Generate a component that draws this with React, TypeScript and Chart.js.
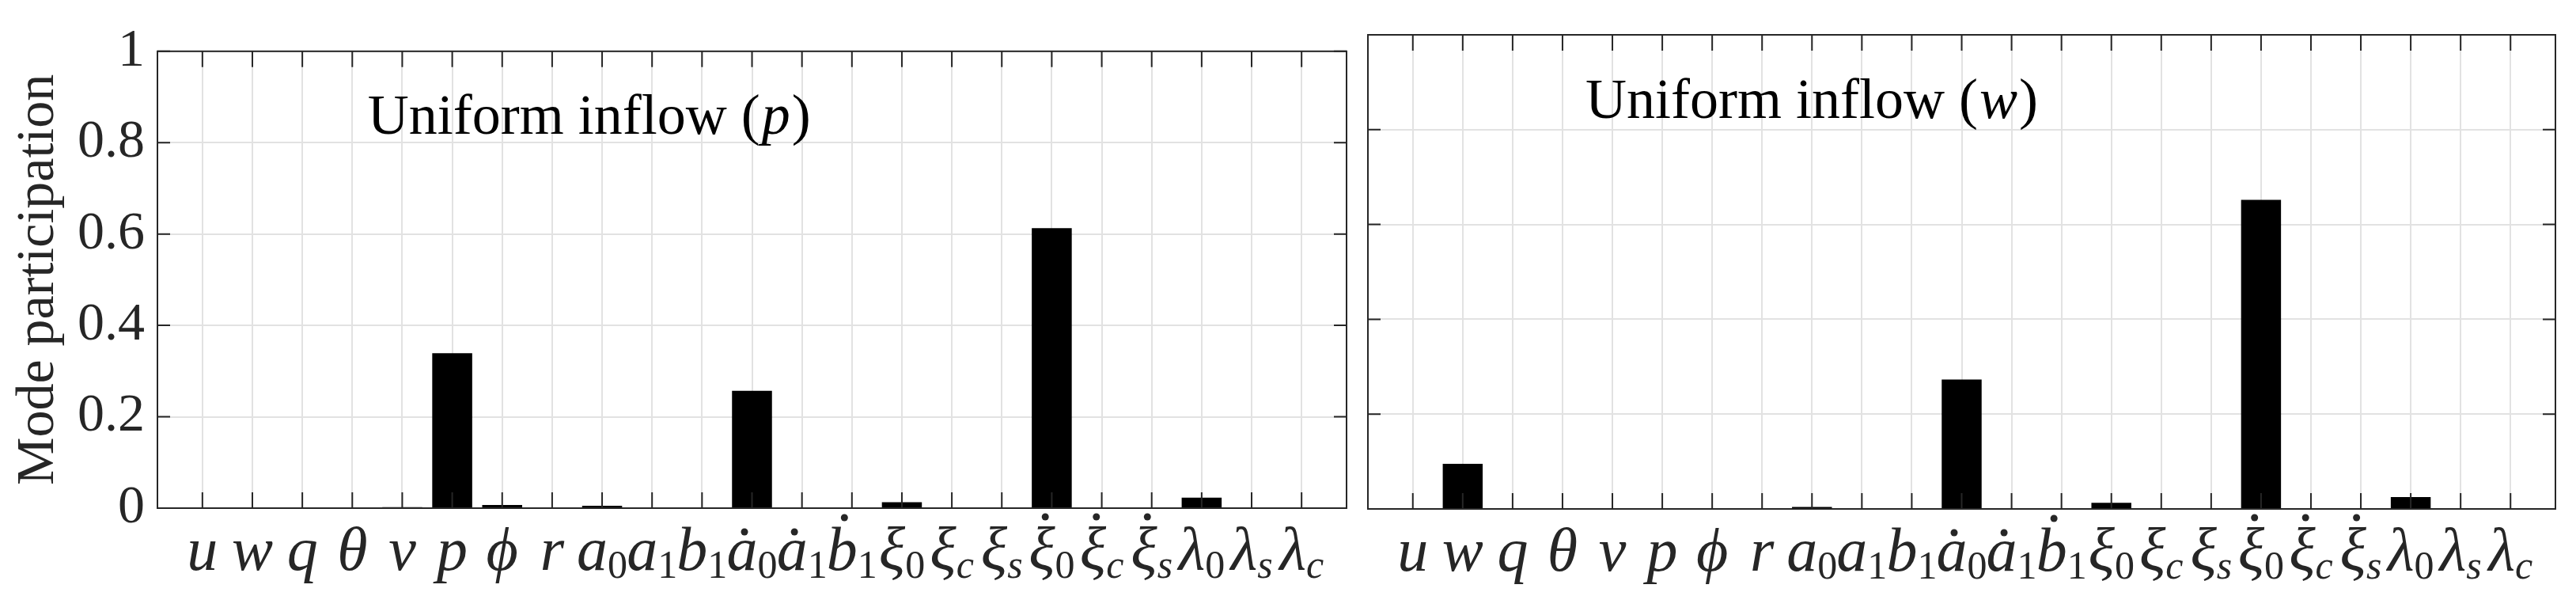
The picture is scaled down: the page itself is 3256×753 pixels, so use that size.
import React, { useEffect, useRef } from 'react';
import { Chart, registerables } from 'chart.js';

Chart.register(...registerables);

// ---- data ----
const LABEL_BASE = ['u', 'w', 'q', 'θ', 'v', 'p', 'ϕ', 'r', 'a', 'a', 'b', 'a', 'a', 'b', 'ξ', 'ξ', 'ξ', 'ξ', 'ξ', 'ξ', 'λ', 'λ', 'λ'];
const LABEL_SUB = ['', '', '', '', '', '', '', '', '0', '1', '1', '0', '1', '1', '0', 'c', 's', '0', 'c', 's', '0', 's', 'c'];
const LABEL_DOT = [false, false, false, false, false, false, false, false, false, false, false, true, true, true, false, false, false, true, true, true, false, false, false];

const VALUES_P = [0, 0, 0, 0, 0.002, 0.339, 0.007, 0.001, 0.005, 0, 0, 0.257, 0, 0, 0.013, 0, 0, 0.613, 0, 0, 0.023, 0, 0];
const VALUES_W = [0, 0.095, 0, 0, 0, 0, 0, 0, 0.004, 0, 0, 0.273, 0, 0, 0.013, 0, 0, 0.652, 0, 0, 0.025, 0, 0];

const Y_TICKS = [0, 0.2, 0.4, 0.6, 0.8, 1];
const Y_TICK_LABELS = ['0', '0.2', '0.4', '0.6', '0.8', '1'];
const Y_TITLE = 'Mode participation';
const TITLE_P = { text: 'Uniform inflow (', sym: 'p', end: ')' };
const TITLE_W = { text: 'Uniform inflow (', sym: 'w', end: ')' };

const SERIF = '"Liberation Serif", "Times New Roman", serif';
const TEXT = '#262626';
const GRID = '#e2e2e2';
const H = 737;

function decorPlugin(title: any, titleX: number, titleY: number) {
  return {
    id: 'decor',
    afterDraw(chart: any) {
      const { ctx, chartArea: a } = chart;
      const xs = chart.scales.x;
      const ys = chart.scales.y;
      ctx.save();
      // box
      ctx.strokeStyle = TEXT;
      ctx.lineWidth = 2;
      ctx.strokeRect(a.left, a.top, a.right - a.left, a.bottom - a.top);
      // inward ticks
      ctx.beginPath();
      LABEL_BASE.forEach((_, i) => {
        const x = xs.getPixelForValue(i + 1);
        ctx.moveTo(x, a.bottom);
        ctx.lineTo(x, a.bottom - 20);
        ctx.moveTo(x, a.top);
        ctx.lineTo(x, a.top + 20);
      });
      Y_TICKS.forEach((v) => {
        const y = ys.getPixelForValue(v);
        ctx.moveTo(a.left, y);
        ctx.lineTo(a.left + 16, y);
        ctx.moveTo(a.right, y);
        ctx.lineTo(a.right - 16, y);
      });
      ctx.stroke();

      // x labels
      ctx.fillStyle = TEXT;
      ctx.textAlign = 'left';
      ctx.textBaseline = 'alphabetic';
      const baseY = a.bottom + 78;
      LABEL_BASE.forEach((base, i) => {
        const sub = LABEL_SUB[i];
        const cx = xs.getPixelForValue(i + 1);
        const baseFont = `italic 78px ${SERIF}`;
        const subFont = /\d/.test(sub) ? `50px ${SERIF}` : `italic 50px ${SERIF}`;
        ctx.font = baseFont;
        const m = ctx.measureText(base);
        const bw = m.width;
        let sw = 0;
        if (sub) {
          ctx.font = subFont;
          sw = ctx.measureText(sub).width;
        }
        const x0 = cx - (bw + sw) / 2;
        ctx.font = baseFont;
        ctx.fillText(base, x0, baseY);
        if (sub) {
          ctx.font = subFont;
          ctx.fillText(sub, x0 + bw, baseY + 10);
        }
        if (LABEL_DOT[i]) {
          const inkL = x0 - m.actualBoundingBoxLeft;
          const inkR = x0 + m.actualBoundingBoxRight;
          const dx = (inkL + inkR) / 2 + 3;
          const dy = baseY - m.actualBoundingBoxAscent - 11;
          ctx.beginPath();
          ctx.arc(dx, dy, 4.5, 0, Math.PI * 2);
          ctx.fill();
        }
      });

      // panel title
      ctx.fillStyle = '#000';
      const tx = xs.getPixelForValue(titleX);
      const ty = ys.getPixelForValue(titleY);
      ctx.font = `72px ${SERIF}`;
      ctx.fillText(title.text, tx, ty);
      let w = ctx.measureText(title.text).width;
      ctx.font = `italic 72px ${SERIF}`;
      ctx.fillText(title.sym, tx + w + 2, ty);
      w += ctx.measureText(title.sym).width + 4;
      ctx.font = `72px ${SERIF}`;
      ctx.fillText(title.end, tx + w, ty);
      ctx.restore();
    },
  };
}

function makeConfig(values: number[], o: any) {
  return {
    type: 'bar',
    data: {
      datasets: [
        {
          data: values.map((v, i) => ({ x: i + 1, y: v })),
          backgroundColor: '#000',
          borderWidth: 0,
          barPercentage: 0.8,
          categoryPercentage: 1,
        },
      ],
    },
    options: {
      animation: false,
      responsive: false,
      events: [],
      layout: { padding: { top: 36, right: o.padRight, left: 0, bottom: 0 } },
      plugins: { legend: { display: false }, tooltip: { enabled: false }, title: { display: false } },
      scales: {
        x: {
          type: 'linear',
          min: 0.1,
          max: 23.9,
          offset: false,
          grid: { color: GRID, lineWidth: 2, drawTicks: false, offset: false },
          border: { display: false },
          ticks: { display: false },
          afterBuildTicks: (s: any) => {
            s.ticks = LABEL_BASE.map((_, i) => ({ value: i + 1 }));
          },
          afterFit: (s: any) => {
            s.height = o.xHeight;
          },
        },
        y: {
          type: 'linear',
          min: 0,
          max: 1,
          grid: { color: GRID, lineWidth: 2, drawTicks: false },
          border: { display: false },
          ticks: {
            display: o.showY,
            padding: 16,
            color: TEXT,
            font: { family: SERIF, size: 68 },
            callback: (v: number) => {
              const idx = Y_TICKS.indexOf(v);
              return idx >= 0 ? Y_TICK_LABELS[idx] : '';
            },
          },
          afterBuildTicks: (s: any) => {
            s.ticks = Y_TICKS.map((v) => ({ value: v }));
          },
          afterFit: (s: any) => {
            s.width = o.yWidth;
          },
          title: {
            display: o.showY,
            text: Y_TITLE,
            color: TEXT,
            font: { family: SERIF, size: 68, lineHeight: 1.2 },
            padding: { top: 0, bottom: 0 },
          },
        },
      },
    },
    plugins: [decorPlugin(o.title, o.titleX, o.titleY)],
  };
}

function Panel({ values, o, left, width }: any) {
  const ref = useRef<HTMLCanvasElement>(null);
  useEffect(() => {
    const chart = new Chart(ref.current as HTMLCanvasElement, makeConfig(values, o) as any);
    return () => chart.destroy();
  }, []);
  return (
    <canvas
      ref={ref}
      width={width}
      height={H}
      style={{ position: 'absolute', left, top: 0, width, height: H, display: 'block' }}
    />
  );
}

export default function App() {
  return (
    <div style={{ position: 'relative', width: 3240, height: H, background: '#fff' }}>
      <Panel
        values={VALUES_P}
        left={0}
        width={1707}
        o={{ padRight: 13, xHeight: 103, yWidth: 191, showY: true, title: TITLE_P, titleX: 4.31, titleY: 0.82 }}
      />
      <Panel
        values={VALUES_W}
        left={1707}
        width={1533}
        o={{ padRight: 18, xHeight: 102, yWidth: 14, showY: false, title: TITLE_W, titleX: 4.46, titleY: 0.824 }}
      />
    </div>
  );
}
